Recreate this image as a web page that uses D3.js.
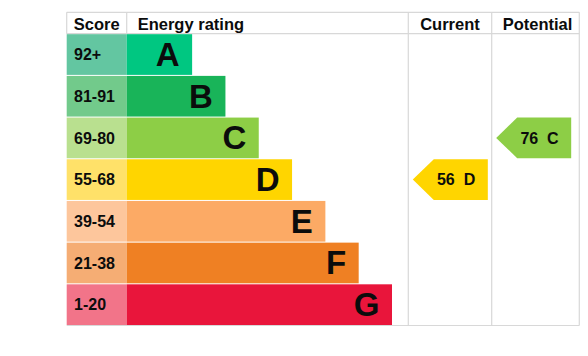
<!DOCTYPE html>
<html>
<head>
<meta charset="utf-8">
<script src="https://cdn.jsdelivr.net/npm/d3@7"></script>
<style>
  html, body { margin: 0; padding: 0; background: #fff; }
  svg { display: block; font-family: "Liberation Sans", Arial, sans-serif; }
</style>
</head>
<body>
<svg id="chart" width="588" height="356"></svg>
<script>
// ---- data ----
const ratings = ["A", "B", "C", "D", "E", "F", "G"];
const scoreRanges = ["92+", "81-91", "69-80", "55-68", "39-54", "21-38", "1-20"];
const scoreMins = [92, 81, 69, 55, 39, 21, 1];
const barLengths = [2, 3, 4, 5, 6, 7, 8];
const barColors = ["#00c781", "#19b459", "#8dce46", "#ffd500", "#fcaa65", "#ef8023", "#e9153b"];
const scoreColors = ["#63c6a1", "#72ca8b", "#b9e08f", "#ffe169", "#fdc69c", "#f5ad74", "#f27489"];
const headers = ["Score", "Energy rating", "Current", "Potential"];
const currentScore = 56;
const potentialScore = 76;

// ---- layout ----
const svg = d3.select("#chart");
const L = {
  left: 66.7, scoreRight: 126.7, curLeft: 408.3, potLeft: 491.7, right: 579.3,
  top: 12.3, headBottom: 33.7, bottom: 325.5
};
const textColor = "#0b0c0c";
const gridColor = "#d8d8d8";

const y = d3.scaleBand().domain(ratings).range([L.headBottom, L.bottom]).padding(0);
const x = d3.scaleLinear().domain([0, 8]).range([125.5, 392]);

function ratingFor(score) {
  const i = scoreMins.findIndex(m => score >= m);
  return ratings[i];
}

// grid lines
const g = svg.append("g").attr("stroke", gridColor).attr("stroke-width", 1.2);
[L.top, L.headBottom, L.bottom].forEach(yy =>
  g.append("line").attr("x1", L.left).attr("x2", L.right).attr("y1", yy).attr("y2", yy));
[L.left, L.scoreRight].forEach(xx =>
  g.append("line").attr("x1", xx).attr("x2", xx).attr("y1", L.top).attr("y2", L.headBottom));
[L.curLeft, L.potLeft, L.right].forEach(xx =>
  g.append("line").attr("x1", xx).attr("x2", xx).attr("y1", L.top).attr("y2", L.bottom));

// headers
const headerPos = [
  { x: (L.left + L.scoreRight) / 2, anchor: "middle" },
  { x: L.scoreRight + 11, anchor: "start" },
  { x: (L.curLeft + L.potLeft) / 2, anchor: "middle" },
  { x: (L.potLeft + L.right) / 2 + 2, anchor: "middle" }
];
svg.append("g").selectAll("text").data(headers).join("text")
  .attr("x", (d, i) => headerPos[i].x)
  .attr("y", 30)
  .attr("text-anchor", (d, i) => headerPos[i].anchor)
  .attr("font-size", 16.5).attr("font-weight", "bold").attr("fill", textColor)
  .text(d => d);

// rows
const rows = svg.append("g").selectAll("g").data(ratings).join("g");
rows.append("rect")
  .attr("x", L.left).attr("y", d => y(d) + 0.5)
  .attr("width", L.scoreRight - L.left).attr("height", y.bandwidth() - 1)
  .attr("fill", (d, i) => scoreColors[i]);
rows.append("rect")
  .attr("x", L.scoreRight).attr("y", d => y(d) + 0.5)
  .attr("width", (d, i) => x(barLengths[i]) - L.scoreRight).attr("height", y.bandwidth() - 1)
  .attr("fill", (d, i) => barColors[i]);
rows.append("text")
  .attr("x", L.left + 7.3).attr("y", d => y(d) + y.bandwidth() / 2 + 5.6)
  .attr("font-size", 16).attr("font-weight", "bold").attr("fill", textColor)
  .text((d, i) => scoreRanges[i]);
rows.append("text")
  .attr("x", (d, i) => x(barLengths[i]) - 12.5).attr("y", d => y(d) + y.bandwidth() / 2 + 11.5)
  .attr("text-anchor", "end")
  .attr("font-size", 33).attr("font-weight", "bold").attr("fill", textColor)
  .text(d => d);

// arrows
const arrows = [
  { score: currentScore, colLeft: L.curLeft },
  { score: potentialScore, colLeft: L.potLeft }
];
const arrowW = 75, pointW = 21;
arrows.forEach(a => {
  const r = ratingFor(a.score);
  const i = ratings.indexOf(r);
  const y0 = y(r) + 0.5, y1 = y(r) + y.bandwidth() - 0.5, ym = (y0 + y1) / 2;
  const x0 = a.colLeft + 4.5;
  svg.append("path")
    .attr("d", `M${x0},${ym}L${x0 + pointW},${y0}L${x0 + arrowW},${y0}L${x0 + arrowW},${y1}L${x0 + pointW},${y1}Z`)
    .attr("fill", barColors[i]);
  svg.append("text")
    .attr("x", x0 + 43.3).attr("y", ym + 5.8)
    .attr("text-anchor", "middle")
    .attr("font-size", 16).attr("font-weight", "bold").attr("fill", textColor)
    .style("white-space", "pre")
    .text(`${a.score}  ${r}`);
});
</script>
</body>
</html>
